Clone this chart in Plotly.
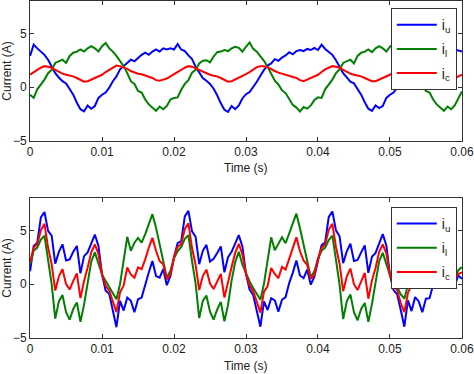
import numpy as np
import plotly.graph_objects as go

# time axis (s), sampled every 0.5 ms
t = np.round(np.linspace(0, 0.06, 121), 5)

# ---- top panel ----
top_iu = [2.9, 3.95, 3.6, 3.3, 3.0, 2.55, 1.95, 1.3, 0.9, 0.55, 0.35, -0.2, -0.7, -1.45, -2.05, -2.25, -1.7, -2.0, -1.75, -1.0,
          -0.7, -0.5, -0.05, 0.55, 1.0, 1.65, 1.95, 2.25, 2.55, 2.4, 2.7, 3.0, 3.2, 3.0, 3.3, 3.5, 3.3, 3.6, 3.5, 3.6,
          3.5, 4.0, 3.5, 3.35, 2.95, 2.6, 1.9, 1.35, 0.85, 0.6, 0.3, -0.15, -0.75, -1.5, -2.1, -2.3, -1.75, -2.05, -1.7, -1.05,
          -0.65, -0.45, 0.0, 0.5, 1.05, 1.6, 2.0, 2.2, 2.6, 2.45, 2.75, 2.95, 3.25, 3.05, 3.35, 3.45, 3.35, 3.55, 3.45, 3.65,
          3.45, 3.95, 3.55, 3.3, 3.0, 2.5, 1.95, 1.3, 0.9, 0.5, 0.35, -0.2, -0.7, -1.4, -2.0, -2.2, -1.7, -1.95, -1.75, -1.0,
          -0.7, -0.5, -0.05, 0.55, 1.0, 1.6, 1.95, 2.25, 2.5, 2.4, 2.7, 3.0, 3.2, 3.0, 3.3, 3.5, 3.3, 3.55, 3.5, 3.4,
          3.3]
top_il = [-0.7, -1.0, -0.2, 0.25, 0.7, 1.3, 1.6, 2.25, 2.4, 2.55, 2.25, 2.9, 3.2, 3.3, 3.5, 3.3, 3.6, 3.8, 3.6, 3.3,
          3.8, 4.1, 3.6, 3.3, 2.9, 2.4, 1.95, 1.3, 0.55, 0.3, -0.35, -0.5, -1.15, -1.6, -1.9, -2.2, -1.8, -2.05, -1.75, -1.15,
          -1.0, -0.95, -0.25, 0.3, 0.65, 1.35, 1.6, 2.2, 2.45, 2.5, 2.3, 2.85, 3.25, 3.3, 3.45, 3.35, 3.6, 3.75, 3.65, 3.3,
          3.75, 4.15, 3.55, 3.3, 2.85, 2.45, 1.9, 1.3, 0.6, 0.25, -0.3, -0.55, -1.1, -1.65, -1.9, -2.25, -1.85, -2.0, -1.7, -1.2,
          -0.95, -1.0, -0.2, 0.25, 0.7, 1.3, 1.65, 2.25, 2.4, 2.55, 2.2, 2.9, 3.2, 3.3, 3.5, 3.25, 3.6, 3.8, 3.6, 3.3,
          3.75, 4.0, 3.6, 3.3, 2.9, 2.4, 1.95, 1.3, 0.55, 0.3, -0.35, -0.5, -1.15, -1.6, -1.9, -2.2, -1.8, -2.05, -1.7, -1.1,
          -0.4]
top_ic = [1.15, 1.4, 1.6, 1.8, 1.95, 1.9, 1.8, 1.6, 1.4, 1.25, 1.15, 1.1, 1.0, 0.85, 0.7, 0.5, 0.55, 0.7, 0.85, 1.0,
          1.15, 1.4, 1.6, 1.85, 2.0, 1.95, 1.85, 1.7, 1.5, 1.35, 1.25, 1.2, 1.1, 1.0, 0.85, 0.65, 0.6, 0.7, 0.8, 1.0,
          1.2, 1.45, 1.6, 1.8, 1.95, 1.9, 1.75, 1.6, 1.4, 1.25, 1.15, 1.05, 1.0, 0.85, 0.65, 0.5, 0.55, 0.7, 0.85, 1.05,
          1.2, 1.4, 1.6, 1.85, 1.95, 1.95, 1.85, 1.65, 1.5, 1.35, 1.25, 1.15, 1.1, 0.95, 0.85, 0.65, 0.55, 0.7, 0.85, 1.0,
          1.15, 1.4, 1.65, 1.8, 1.95, 1.9, 1.8, 1.6, 1.4, 1.25, 1.15, 1.1, 1.0, 0.85, 0.7, 0.55, 0.55, 0.7, 0.85, 1.0,
          1.15, 1.4, 1.6, 1.8, 2.0, 1.95, 1.85, 1.7, 1.5, 1.35, 1.25, 1.2, 1.1, 1.0, 0.85, 0.65, 0.6, 0.7, 0.8, 1.0,
          1.15]

# ---- bottom panel ----
bot_iu = [1.2, 3.55, 3.85, 6.2, 6.7, 4.95, 4.5, 1.9, 3.0, 3.7, 2.2, 2.3, 3.0, 3.55, 1.0, 2.6, 2.95, 3.8, 4.6, 3.55,
          0.9, -0.6, -0.9, -2.45, -4.0, -1.55, -2.45, -1.25, -1.55, -2.6, -1.4, -1.25, 0.0, 1.1, 2.15, 0.75, 0.6, 1.4, -0.1, 0.75,
          2.5, 3.8, 4.0, 6.3, 6.8, 4.9, 4.4, 1.85, 3.1, 3.65, 2.1, 2.35, 2.9, 3.5, 1.1, 2.5, 3.0, 3.85, 4.55, 3.5,
          0.95, -0.5, -1.0, -2.5, -3.95, -1.6, -2.4, -1.3, -1.5, -2.55, -1.45, -1.2, 0.1, 1.05, 2.2, 0.8, 0.55, 1.35, -0.05, 0.7,
          2.3, 3.6, 3.9, 6.25, 6.75, 5.0, 4.45, 1.95, 3.05, 3.75, 2.15, 2.25, 2.95, 3.6, 1.05, 2.55, 2.9, 3.8, 4.65, 3.6,
          0.85, -0.55, -0.95, -2.4, -3.95, -1.5, -2.5, -1.2, -1.6, -2.6, -1.35, -1.3, 0.05, 1.15, 2.1, 0.7, 0.65, 1.45, -0.15, 0.8,
          0.5]
bot_il = [1.85, 3.1, 3.4, 4.15, 4.5, 2.2, 0.0, -3.2, -1.6, -1.0, -2.6, -3.3, -2.3, -1.7, -3.5, -1.9, 0.3, 2.1, 2.95, 1.85,
          0.9, 0.3, -0.3, -0.9, -1.4, 0.0, 2.15, 4.4, 3.1, 3.85, 4.3, 3.85, 4.65, 5.55, 6.5, 5.25, 3.7, 2.15, 0.6, 1.25,
          2.4, 3.05, 3.45, 4.2, 4.55, 2.15, 0.05, -3.15, -1.55, -1.05, -2.55, -3.3, -2.35, -1.65, -3.45, -1.95, 0.35, 2.05, 3.0, 1.8,
          0.95, 0.25, -0.35, -0.85, -1.45, 0.05, 2.1, 4.35, 3.15, 3.8, 4.35, 3.8, 4.7, 5.5, 6.55, 5.2, 3.75, 2.1, 0.65, 1.2,
          2.35, 3.1, 3.4, 4.1, 4.5, 2.25, -0.05, -3.25, -1.6, -0.95, -2.6, -3.35, -2.3, -1.75, -3.5, -1.85, 0.25, 2.15, 2.9, 1.9,
          0.85, 0.3, -0.25, -0.95, -1.35, -0.05, 2.2, 4.45, 3.05, 3.9, 4.25, 3.9, 4.6, 5.6, 6.45, 5.3, 3.65, 2.2, 0.55, 1.3,
          1.6]
bot_ic = [2.0, 3.4, 3.7, 5.0, 5.6, 3.4, 1.85, -0.6, 0.7, 1.4, 0.0, -0.5, 0.3, 1.0, -1.3, 0.3, 1.55, 2.95, 3.7, 2.8,
          0.9, -0.15, -0.6, -1.7, -2.6, -0.75, -0.15, 1.55, 0.9, 0.6, 1.55, 1.4, 2.3, 3.4, 4.3, 3.1, 2.15, 1.85, 0.45, 0.9,
          2.5, 3.45, 3.75, 5.1, 5.65, 3.35, 1.8, -0.55, 0.75, 1.35, 0.05, -0.45, 0.25, 0.95, -1.25, 0.25, 1.6, 2.9, 3.75, 2.75,
          0.95, -0.1, -0.65, -1.65, -2.65, -0.7, -0.2, 1.5, 0.95, 0.55, 1.6, 1.35, 2.35, 3.35, 4.35, 3.05, 2.2, 1.8, 0.5, 0.85,
          2.35, 3.35, 3.7, 5.05, 5.6, 3.45, 1.9, -0.65, 0.7, 1.45, 0.0, -0.55, 0.3, 1.05, -1.35, 0.35, 1.5, 3.0, 3.7, 2.85,
          0.85, -0.2, -0.55, -1.75, -2.6, -0.8, -0.1, 1.6, 0.85, 0.65, 1.5, 1.45, 2.25, 3.45, 4.25, 3.15, 2.1, 1.9, 0.4, 0.95,
          1.1]

names = ["i<sub>u</sub>", "i<sub>l</sub>", "i<sub>c</sub>"]
colors = ["#0000ff", "#007f00", "#ff0000"]
xticks = [0, 0.01, 0.02, 0.03, 0.04, 0.05, 0.06]
xticklabels = ["0", "0.01", "0.02", "0.03", "0.04", "0.05", "0.06"]
yticks = [-5, 0, 5]
xtitle = "Time (s)"
ytitle = "Current (A)"

fig = go.Figure()
for ys, nm, c in zip([top_iu, top_il, top_ic], names, colors):
    fig.add_trace(go.Scatter(x=t, y=ys, mode="lines", name=nm, line=dict(color=c, width=2),
                             xaxis="x", yaxis="y", legend="legend", legendgroup="t" + nm))
for ys, nm, c in zip([bot_iu, bot_il, bot_ic], names, colors):
    fig.add_trace(go.Scatter(x=t, y=ys, mode="lines", name=nm, line=dict(color=c, width=2),
                             xaxis="x2", yaxis="y2", legend="legend2", legendgroup="b" + nm))

font = dict(family="Liberation Sans, Arial, sans-serif", size=12, color="#222")
axcommon = dict(showgrid=False, zeroline=False, showline=True, linecolor="#333", linewidth=1,
                mirror="ticks", ticks="inside", ticklen=4, tickcolor="#333", tickfont=font,
                automargin=False)
xrange_ = [-0.00001, 0.06001]

fig.update_layout(
    width=474, height=374,
    margin=dict(l=30, r=12, t=1, b=36, autoexpand=False),
    paper_bgcolor="white", plot_bgcolor="white",
    font=font,
    showlegend=True,
    xaxis=dict(domain=[0, 1], range=xrange_, tickvals=xticks, ticktext=xticklabels, anchor="y",
               ticklabeloverflow="allow", **axcommon),
    yaxis=dict(domain=[0.5846, 1.0], range=[-5, 8], tickvals=yticks, anchor="x",
               title=dict(text=ytitle, font=font, standoff=2), **axcommon),
    xaxis2=dict(domain=[0, 1], range=xrange_, tickvals=xticks, ticktext=xticklabels, anchor="y2",
                ticklabeloverflow="allow", **axcommon),
    yaxis2=dict(domain=[0, 0.4154], range=[-5, 8], tickvals=yticks, anchor="x2",
                title=dict(text=ytitle, font=font, standoff=2), **axcommon),
    legend=dict(x=0.988, y=0.979, xanchor="right", yanchor="top", bgcolor="white",
                bordercolor="#333", borderwidth=1, font=dict(family=font["family"], size=14, color="#222"),
                tracegroupgap=3, itemwidth=40),
    legend2=dict(x=0.988, y=0.389, xanchor="right", yanchor="top", bgcolor="white",
                 bordercolor="#333", borderwidth=1, font=dict(family=font["family"], size=14, color="#222"),
                 tracegroupgap=3, itemwidth=40),
    annotations=[
        dict(text=xtitle, xref="paper", yref="paper", x=0.5, y=0.5045, xanchor="center", yanchor="middle",
             showarrow=False, font=font),
        dict(text=xtitle, xref="paper", yref="paper", x=0.5, y=-0.0831, xanchor="center", yanchor="middle",
             showarrow=False, font=font),
    ],
)

fig.write_html("out.html", config={"displayModeBar": False},
               post_script="document.body.style.margin='0px';")
